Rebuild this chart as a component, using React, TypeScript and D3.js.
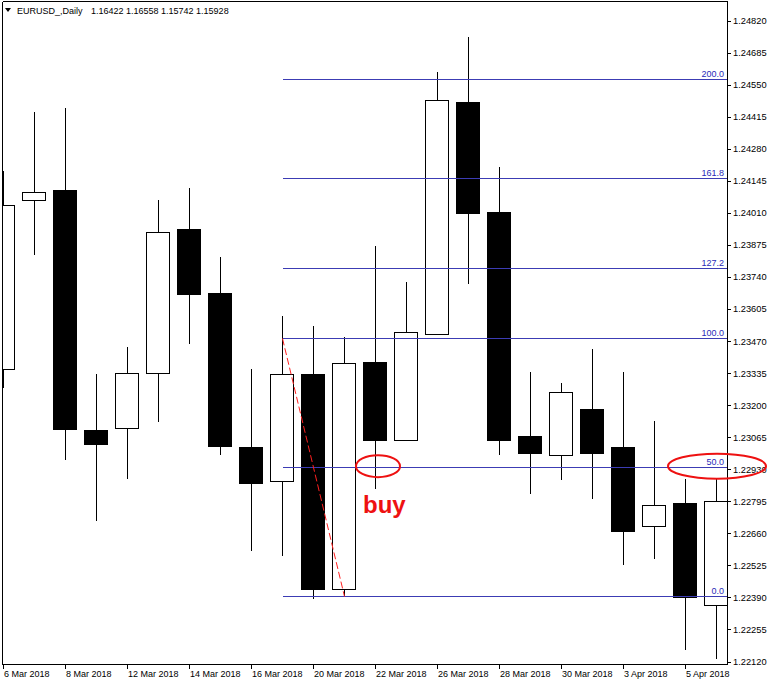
import React from "react";
import * as d3 from "d3";

const dates = ["6 Mar", "7 Mar", "8 Mar", "9 Mar", "12 Mar", "13 Mar", "14 Mar", "15 Mar", "16 Mar", "19 Mar", "20 Mar", "21 Mar", "22 Mar", "23 Mar", "26 Mar", "27 Mar", "28 Mar", "29 Mar", "30 Mar", "2 Apr", "3 Apr", "4 Apr", "5 Apr", "6 Apr"];
const openV = [1.23352, 1.24064, 1.24106, 1.23095, 1.23104, 1.23335, 1.23942, 1.23672, 1.23024, 1.22879, 1.23332, 1.22425, 1.23382, 1.23053, 1.235, 1.24477, 1.24013, 1.2307, 1.2299, 1.23184, 1.23024, 1.22691, 1.22788, 1.22358];
const highV = [1.2419, 1.2444, 1.24456, 1.23335, 1.23449, 1.24068, 1.24119, 1.23828, 1.23356, 1.2358, 1.23537, 1.23491, 1.23874, 1.23723, 1.24609, 1.24756, 1.24207, 1.23344, 1.23297, 1.23441, 1.23344, 1.23137, 1.22893, 1.22897];
const lowV = [1.23276, 1.23836, 1.22973, 1.22716, 1.22893, 1.23133, 1.23462, 1.22994, 1.2259, 1.22569, 1.22387, 1.22396, 1.22851, 1.23053, 1.235, 1.23714, 1.22994, 1.2283, 1.22889, 1.22809, 1.22531, 1.22556, 1.22173, 1.22135];
const closeV = [1.24043, 1.24098, 1.23099, 1.23036, 1.23335, 1.23929, 1.23668, 1.23028, 1.22872, 1.23332, 1.22425, 1.23377, 1.23053, 1.23508, 1.24485, 1.24009, 1.23053, 1.22998, 1.23255, 1.22998, 1.2267, 1.22779, 1.22392, 1.22796];

const priceTicks = [1.2212, 1.22255, 1.2239, 1.22525, 1.2266, 1.22795, 1.2293, 1.23065, 1.232, 1.23335, 1.2347, 1.23605, 1.2374, 1.23875, 1.2401, 1.24145, 1.2428, 1.24415, 1.2455, 1.24685, 1.2482];
const dateLabels = ["6 Mar 2018", "8 Mar 2018", "12 Mar 2018", "14 Mar 2018", "16 Mar 2018", "20 Mar 2018", "22 Mar 2018", "26 Mar 2018", "28 Mar 2018", "30 Mar 2018", "3 Apr 2018", "5 Apr 2018"];
const dateLabelAt = ["6 Mar", "8 Mar", "12 Mar", "14 Mar", "16 Mar", "20 Mar", "22 Mar", "26 Mar", "28 Mar", "30 Mar", "3 Apr", "5 Apr"];

const fibLevels = [0, 50, 100, 127.2, 161.8, 200];
const fibLabels = ["0.0", "50.0", "100.0", "127.2", "161.8", "200.0"];
const fibHigh = 1.23483;
const fibLow = 1.22394;
const fibStartDate = "19 Mar";
const fibEndDate = "21 Mar";

const titleName = "EURUSD_,Daily";
const titleValues = "1.16422 1.16558 1.15742 1.15928";

export default function App() {
  const W = 768, H = 685;
  const plotL = 2.5, plotR = 727.5, plotT = 1.5, plotB = 664.5;
  const x = d3.scalePoint<string>().domain(dates).range([3, 716]).padding(0);
  const y = d3.scaleLinear().domain([1.2212, 1.2482]).range([661.5, 20.5]);
  const px = (d: string) => Math.round(x(d) as number) + 0.5;
  const py = (v: number) => Math.round(y(v)) + 0.5;
  const fibPrice = (lv: number) => fibLow + ((fibHigh - fibLow) * lv) / 100;
  const font = "'Liberation Sans', Arial, sans-serif";
  const fibLineColor = "#3c3cb4";
  const fibTextColor = "#2a2ab8";

  return (
    <svg width={W} height={H} style={{ position: "absolute", left: 0, top: 0, background: "#fff" }}>
      <defs>
        <clipPath id="plot">
          <rect x={3} y={2} width={724} height={662} />
        </clipPath>
      </defs>
      <rect x={0} y={0} width={W} height={H} fill="#fff" />
      <g clipPath="url(#plot)" shapeRendering="crispEdges">
        {dates.map((d, i) => {
          const cx = px(d);
          const up = closeV[i] >= openV[i];
          const top = py(Math.max(openV[i], closeV[i]));
          const bot = py(Math.min(openV[i], closeV[i]));
          return (
            <g key={d}>
              <line x1={cx} x2={cx} y1={py(highV[i])} y2={py(lowV[i])} stroke="#000" strokeWidth={1} />
              <rect x={cx - 12} y={top} width={23} height={Math.max(1, bot - top)} fill={up ? "#fff" : "#000"} stroke="#000" strokeWidth={1} />
            </g>
          );
        })}
        {fibLevels.map((lv, i) => (
          <line key={"f" + i} x1={px(fibStartDate)} x2={plotR} y1={py(fibPrice(lv))} y2={py(fibPrice(lv))} stroke={fibLineColor} strokeWidth={1} />
        ))}
      </g>
      <g clipPath="url(#plot)">
        {fibLevels.map((lv, i) => (
          <text key={"fl" + i} x={724} y={py(fibPrice(lv)) - 3} textAnchor="end" fontFamily={font} fontSize={9} fill={fibTextColor}>
            {fibLabels[i]}
          </text>
        ))}
        <line x1={px(fibStartDate)} y1={py(fibHigh)} x2={px(fibEndDate)} y2={py(fibLow)} stroke="#ff2020" strokeWidth={1} strokeDasharray="7,3" />
      </g>
      {/* frame */}
      <g shapeRendering="crispEdges">
        <line x1={plotL} x2={plotL} y1={plotT} y2={plotB} stroke="#000" />
        <line x1={plotL} x2={plotR} y1={plotT} y2={plotT} stroke="#000" />
        <line x1={plotR} x2={plotR} y1={plotT} y2={plotB} stroke="#000" />
        <line x1={plotL} x2={plotR} y1={plotB} y2={plotB} stroke="#000" />
        {priceTicks.map((t) => (
          <line key={"pt" + t} x1={plotR} x2={plotR + 3} y1={py(t)} y2={py(t)} stroke="#000" />
        ))}
        {dateLabelAt.map((d) => (
          <line key={"dt" + d} x1={px(d)} x2={px(d)} y1={plotB} y2={plotB + 4} stroke="#000" />
        ))}
      </g>
      {priceTicks.map((t) => (
        <text key={"ptl" + t} x={733} y={y(t) + 3.5} fontFamily={font} fontSize={9.3} fill="#000">
          {t.toFixed(5)}
        </text>
      ))}
      {dateLabelAt.map((d, i) => (
        <text key={"dl" + d} x={(x(d) as number) + 1} y={677} fontFamily={font} fontSize={9} fill="#000">
          {dateLabels[i]}
        </text>
      ))}
      {/* title */}
      <path d="M5,8 L11,8 L8,12 Z" fill="#000" />
      <text x={17} y={14} fontFamily={font} fontSize={9} fill="#000">{titleName}</text>
      <text x={91} y={14} fontFamily={font} fontSize={9} fill="#000">{titleValues}</text>
      {/* annotations */}
      <ellipse cx={(x("22 Mar") as number) + 3} cy={y(fibPrice(50)) - 1} rx={22} ry={11} fill="none" stroke="#ee1111" strokeWidth={2} />
      <ellipse cx={(x("6 Apr") as number) + 1} cy={y(fibPrice(50)) - 1} rx={49} ry={12.5} fill="none" stroke="#ee1111" strokeWidth={2} />
      <text x={(x("22 Mar") as number) - 12} y={513} fontFamily={font} fontWeight="bold" fontSize={24} fill="#ee1111">buy</text>
    </svg>
  );
}
